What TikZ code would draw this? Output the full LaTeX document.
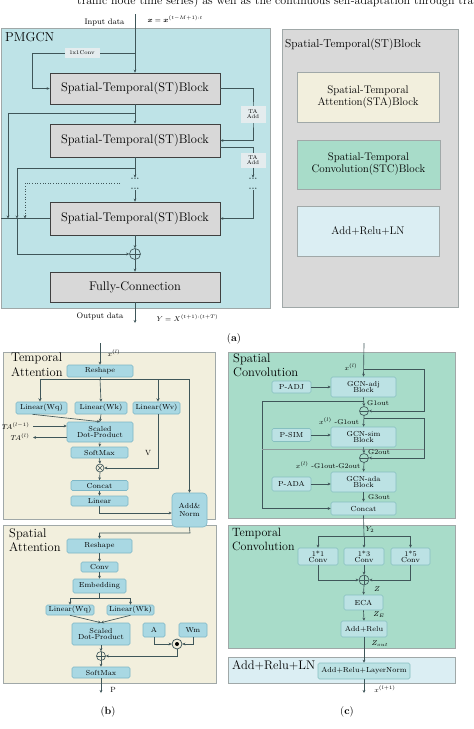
\documentclass[tikz,border=0pt]{standalone}
\usepackage{amsmath}
\usetikzlibrary{arrows.meta,calc}
\definecolor{cyanbg}{HTML}{BEE3E7}
\definecolor{stgray}{HTML}{D8D8D8}
\definecolor{panelgray}{HTML}{D9D9D9}
\definecolor{cream}{HTML}{F2EFDD}
\definecolor{mint}{HTML}{A8DCC9}
\definecolor{lightblue}{HTML}{DBEEF3}
\definecolor{bboxf}{HTML}{A9D8E3}
\definecolor{bboxd}{HTML}{7DB6C6}
\definecolor{cboxf}{HTML}{BCE2E4}
\definecolor{cboxd}{HTML}{86BFC0}
\definecolor{lc}{HTML}{3F5659}
\definecolor{pb}{HTML}{A0A8A8}
\definecolor{lblf}{HTML}{E4ECEE}
\newcommand\fsz[1]{\fontsize{#1}{#1}\selectfont}
\begin{document}
\begin{tikzpicture}[x=1pt,y=-1pt,
  ln/.style={draw=lc, line width=0.65pt},
  arr/.style={ln, -{Stealth[length=3pt,width=2.8pt]}},
  harr/.style={ln, -{Stealth[open,length=3.5pt,width=3.5pt]}},
  sz/.style 2 args={minimum width=#1pt, minimum height=#2pt, inner sep=0pt},
  stb/.style={draw=black!75, fill=stgray, line width=0.8pt, font=\fsz{12.5}},
  lbl/.style={fill=lblf, font=\fsz{5.5}, align=center},
  sub/.style={draw=pb, line width=0.6pt, font=\fsz{11}, align=center},
  pan/.style={draw=pb, line width=0.6pt},
  ptitle/.style={anchor=north west, inner sep=0pt, align=left, font={\fontsize{12.5}{14.5}\selectfont}},
  bb/.style={draw=bboxd, fill=bboxf, rounded corners=1.5pt, line width=0.6pt, font=\fsz{7.3}, align=center},
  cb/.style={draw=cboxd, fill=cboxf, rounded corners=1.5pt, line width=0.6pt, font=\fsz{7.3}, align=center},
  sm/.style={inner sep=0pt, font=\fsz{7}},
  dts/.style={inner sep=0.5pt, text=lc, font=\bfseries\fsz{9}},
  opl/.style={circle, draw=lc, line width=0.65pt, inner sep=0pt, minimum size=#1pt,
    path picture={\draw[lc,line width=0.65pt] (path picture bounding box.north) -- (path picture bounding box.south) (path picture bounding box.west) -- (path picture bounding box.east);}},
  otm/.style={circle, draw=lc, line width=0.65pt, inner sep=0pt, minimum size=#1pt,
    path picture={\draw[lc,line width=0.65pt] (path picture bounding box.north west) -- (path picture bounding box.south east) (path picture bounding box.south west) -- (path picture bounding box.north east);}},
  omn/.style={circle, draw=lc, line width=0.65pt, inner sep=0pt, minimum size=#1pt,
    path picture={\draw[lc,line width=0.65pt] (path picture bounding box.west) -- (path picture bounding box.east);}},
  odt/.style={circle, draw=lc, line width=0.75pt, inner sep=0pt, minimum size=#1pt,
    path picture={\fill[black] (path picture bounding box.center) circle (2pt);}},
]
\useasboundingbox (0,0) rectangle (474,729);

% caption line cut at the top
\node[anchor=base west, inner sep=0pt, font=\fsz{12}] (cap) at (77,4.5) {traffic node time series) as well as the continuous self-adaptation through traffic};

% ================= (a) =================
\node[pan, fill=cyanbg, sz={269}{280}] (pmg) at (135.5,168) {};
\node[ptitle, font=\fsz{13}] (pmgt) at (5,32) {PMGCN};
\node[stb, sz={170}{31}] (st1) at (135,88.5) {Spatial-Temporal(ST)Block};
\node[stb, sz={170}{33}] (st2) at (135,140.5) {Spatial-Temporal(ST)Block};
\node[stb, sz={170}{33}] (st3) at (135,218.5) {Spatial-Temporal(ST)Block};
\node[stb, sz={170}{30}] (fc) at (135,287) {Fully-Connection};
\node[opl=11] (opa) at (135,254) {};

\coordinate (inp) at (135,14);
\node[anchor=east, font=\fsz{8}] (inl) at (128,22) {Input data};
\node[anchor=west, font=\fsz{7}] (inf) at (144,19) {$\boldsymbol{x}=\boldsymbol{x}^{(t-M+1):t}$};
\draw[arr] (inp) -- (st1.north);
\coordinate (j1) at (135,53);
\draw[arr] (j1) -- (32,53) |- (st1.west);
\node[lbl, sz={35}{10}] (c1x1) at (82,53) {1x1Conv};
\draw[arr] (st1.south) -- (st2.north);
\coordinate (j2) at (135,113);
\draw[arr] (j2) -| (8,218.5);
\draw[arr] (st1.east) -| (253,115) |- (st2.east);
\node[lbl, sz={25}{17}] (ta1) at (253,114) {TA\\Add};
\draw[ln] ([yshift=-7pt]st2.east) -| (253,160);
\node[lbl, sz={25}{15}] (ta2) at (253,160) {TA\\Add};
\node[dts] (rd1) at (253,179) {...};
\node[dts] (rd2) at (253,189) {...};
\draw[arr] (ta2.south) -- (rd1.north);
\draw[arr] (rd2.south) |- (st3.east);
\node[dts] (cd1) at (135,179) {...};
\node[dts] (cd2) at (135,189) {...};
\draw[arr] (st2.south) -- (cd1.north);
\draw[arr] (cd2.south) -- (st3.north);
\coordinate (j3) at (135,168);
\draw[arr] (j3) -| (17,218.5);
\draw[arr] (17,218.5) |- (opa.west);
\draw[arr, dotted] (120,183) -| (25,218.5);
\draw[ln] (1,218.5) -- (st3.west);
\draw[arr] (st3.south) -- (opa.north);
\draw[arr] (opa.south) -- (fc.north);
\coordinate (outp) at (135,323);
\draw[arr] (fc.south) -- (outp);
\node[anchor=east, font=\fsz{8}] (outl) at (127,316) {Output data};
\node[anchor=west, font=\fsz{7}] (outf) at (153,318) {$Y=X^{(t+1):(t+T)}$};
\node[font=\fsz{10.5}] (capa) at (234,339) {(\textbf{a})};

% right panel (a)
\node[pan, fill=panelgray, sz={176}{278}] (stp) at (370,168) {};
\node[anchor=west, inner sep=0pt, font=\fsz{11.5}] (stpt) at (285,45) {Spatial-Temporal(ST)Block};
\node[sub, fill=cream, sz={142}{50}] (sta) at (368,97) {Spatial-Temporal\\[1pt]Attention(STA)Block};
\node[sub, fill=mint, sz={143}{49}] (stc) at (368.5,164.5) {Spatial-Temporal\\[1pt]Convolution(STC)Block};
\node[sub, fill=lightblue, sz={142}{50}] (arl) at (368,231) {Add+Relu+LN};

% ================= (b) =================
\node[pan, fill=cream, sz={212}{167}] (tap) at (109,435.5) {};
\node[pan, fill=cream, sz={213}{158}] (sap) at (109.5,604) {};
\node[ptitle] (tat) at (11,353) {Temporal\\Attention};
\node[ptitle] (sat) at (9,528) {Spatial\\Attention};

\node[bb, sz={66}{12}] (rs1) at (100,371) {Reshape};
\node[bb, sz={51}{12}] (wq1) at (41.5,408) {Linear(Wq)};
\node[bb, sz={52}{12}] (wk1) at (101,408) {Linear(Wk)};
\node[bb, sz={47}{12}] (wv1) at (156.5,408) {Linear(Wv)};
\node[bb, sz={66}{20}] (sd1) at (100,432) {Scaled\\[-1.5pt]Dot-Product};
\node[bb, sz={57}{11}] (sm1) at (99.5,452.5) {SoftMax};
\node[otm=8] (ot1) at (100,468) {};
\node[bb, sz={57}{10}] (cc1) at (99.5,485.5) {Concat};
\node[bb, sz={57}{10}] (li1) at (99.5,501) {Linear};
\node[bb, rounded corners=4pt, sz={35}{34}] (an) at (189.5,510) {Add\&\\[1pt]Norm};

\coordinate (tin) at (100,343);
\draw[arr] (tin) -- (rs1.north);
\node[anchor=west, font=\fsz{7.5}] (xl1) at (104,353) {$x^{(l)}$};
\coordinate (t1) at (100,379);
\draw[ln] (rs1.south) -- (t1);
\draw[ln] (40,379) -- (190,379);
\draw[harr] (40,379) -- (wq1.north -| 40,0);
\draw[arr] (t1) -- (wk1.north);
\draw[harr] (158,379) -- (wv1.north -| 158,0);
\draw[arr] (an.north |- t1) -- (an.north);
\draw[arr] ([xshift=-9pt]wq1.south) -- (sd1.north);
\draw[arr] (wk1.south) -- (sd1.north);
\node[anchor=east, font=\fsz{7.5}] (tal1) at (33,426) {$T\!A^{(l-1)}$};
\node[anchor=east, font=\fsz{7.5}] (tal2) at (33,437.5) {$T\!A^{(l)}$};
\draw[arr] (tal1.east) -- (tal1.east -| sd1.west);
\draw[arr] (tal2.east -| sd1.west) -- (tal2.east);
\draw[arr] (sd1.south) -- (sm1.north);
\draw[arr] (sm1.south) -- (ot1.north);
\draw[arr] (wv1.south -| 158,0) |- (ot1.east);
\node[font=\fsz{7.5}] (vl) at (148,453) {V};
\draw[arr] (ot1.south) -- (cc1.north);
\draw[arr] (cc1.south) -- (li1.north);
\draw[arr] (li1.south) |- ([yshift=-3pt]an.west);

\node[bb, sz={65}{14}] (rs2) at (99.5,546) {Reshape};
\node[bb, sz={37}{10}] (cv2) at (99.5,567) {Conv};
\node[bb, sz={53}{14}] (em2) at (99.5,586) {Embedding};
\node[bb, sz={48}{10}] (wq2) at (70,610) {Linear(Wq)};
\node[bb, sz={47}{10}] (wk2) at (130.5,610) {Linear(Wk)};
\node[bb, sz={58}{22}] (sd2) at (101,634) {Scaled\\[-1.5pt]Dot-Product};
\node[bb, sz={22}{14}] (ba) at (154,630) {A};
\node[bb, sz={28}{14}] (bw) at (193,630) {Wm};
\node[odt=10] (od) at (177,644) {};
\node[opl=9] (op2) at (101,656) {};
\node[bb, sz={58}{11}] (sm2) at (101,672.5) {SoftMax};

\draw[arr] (an.south) -- (190,533) -| (rs2.north);
\draw[arr] (rs2.south) -- (cv2.north);
\draw[arr] (cv2.south) -- (em2.north);
\coordinate (s1) at (99.5,598);
\draw[ln] (em2.south) -- (s1);
\draw[arr] (s1) -| (wq2.north);
\draw[arr] (s1) -| (wk2.north);
\draw[arr] (wq2.south) -- (sd2.north);
\draw[arr] (wk2.south) -- (sd2.north);
\draw[arr] (sd2.south) -- (op2.north);
\draw[arr] (ba.south) |- (od.west);
\draw[arr] (bw.south) |- (od.east);
\draw[arr] (od.south) |- (op2.east);
\draw[arr] (op2.south) -- (sm2.north);
\coordinate (pout) at (101,693);
\draw[arr] (sm2.south) -- (pout);
\node[font=\fsz{7.5}] (pl) at (113,690) {P};
\node[font=\fsz{10.5}] (capb) at (108,712) {(\textbf{b})};

% ================= (c) =================
\node[pan, fill=mint, sz={227}{166}] (scp) at (341.5,435) {};
\node[pan, fill=mint, sz={227}{123}] (tcp) at (341.5,586.5) {};
\node[pan, fill=lightblue, sz={227}{26}] (lnp) at (341.5,670) {};
\node[ptitle] (sct) at (233,353) {Spatial\\Convolution};
\node[ptitle, font={\fontsize{12}{14}\selectfont}] (tct) at (232,528) {Temporal\\Convolution};
\node[anchor=west, inner sep=0pt, font=\fsz{12.5}] (lnt) at (232,666) {Add+Relu+LN};

\node[cb, sz={65}{20}] (gadj) at (363.5,387) {GCN-adj\\[-1.5pt]Block};
\node[cb, sz={39}{12}] (padj) at (291.5,387) {P-ADJ};
\node[omn=9] (om1) at (364,411) {};
\node[cb, sz={65}{20}] (gsim) at (363.5,437) {GCN-sim\\[-1.5pt]Block};
\node[cb, sz={39}{13}] (psim) at (291.5,435) {P-SIM};
\node[omn=9] (om2) at (364,458) {};
\node[cb, sz={65}{20}] (gada) at (363.5,482) {GCN-ada\\[-1.5pt]Block};
\node[cb, sz={39}{14}] (pada) at (291.5,484) {P-ADA};
\node[cb, sz={65}{13}] (cc2) at (363.5,508.5) {Concat};

\coordinate (cin) at (364,343);
\draw[arr] (cin) -- (gadj.north);
\node[font=\fsz{7.5}] (xl2) at (351,367) {$x^{(l)}$};
\draw[arr] (364,369) -| (424,411) -- (om1.east);
\draw[arr] (padj.east) -- (gadj.west);
\draw[arr] (gadj.south) -- (om1.north);
\node[anchor=west, sm] (g1) at (367,403) {G1out};
\draw[arr] (364,401) -| (262,508.5) -- (cc2.west);
\draw[arr] (om1.south) -- (gsim.north);
\node[sm] (xg1) at (339,421) {$x^{(l)}$ -G1out};
\draw[arr] (364,418) -| (424,458) -- (om2.east);
\draw[draw=lc!60, line width=0.4pt] (262,449) -- (424,449);
\draw[arr] (psim.east) -- (psim.east -| gsim.west);
\draw[arr] (gsim.south) -- (om2.north);
\node[anchor=west, sm] (g2) at (368,452) {G2out};
\draw[arr] (om2.south) -- (gada.north);
\node[sm] (xg2) at (328,465.5) {$x^{(l)}$ -G1out-G2out};
\draw[arr] (pada.east) -- (pada.east -| gada.west);
\draw[arr] (gada.south) -- (cc2.north);
\node[anchor=west, sm] (g3) at (368,497) {G3out};

\node[cb, sz={40}{17}] (c11) at (318,556.5) {1*1\\[-1.5pt]Conv};
\node[cb, sz={40}{17}] (c13) at (364,556.5) {1*3\\[-1.5pt]Conv};
\node[cb, sz={39}{17}] (c15) at (410.5,556.5) {1*5\\[-1.5pt]Conv};
\node[opl=10] (op3) at (364,580) {};
\node[cb, sz={39}{15}] (eca) at (363.5,602.5) {ECA};
\node[cb, sz={46}{16}] (ar) at (364,629) {Add+Relu};
\node[cb, sz={92}{16}] (arln) at (364,671) {Add+Relu+LayerNorm};

\coordinate (y2) at (364,536);
\draw[ln] (cc2.south) -- (y2);
\node[font=\fsz{7.5}] (y2l) at (370,530) {$Y_2$};
\draw[arr] (y2) -| (c11.north);
\draw[arr] (y2) -- (c13.north);
\draw[arr] (y2) -| (c15.north);
\draw[arr] (c11.south) |- (op3.west);
\draw[arr] (c15.south) |- (op3.east);
\draw[arr] (c13.south) -- (op3.north);
\draw[arr] (op3.south) -- (eca.north);
\node[font=\fsz{7.5}] (zl) at (377,589) {$Z$};
\draw[arr] (eca.south) -- (ar.north);
\node[font=\fsz{7.5}] (zel) at (379,615) {$Z_E$};
\draw[arr] (ar.south) -- (arln.north);
\node[font=\fsz{7.5}] (zol) at (380,644) {$Z_{out}$};
\coordinate (cout) at (364,693);
\draw[arr] (arln.south) -- (cout);
\node[font=\fsz{7.5}] (xl3) at (385,689) {$x^{(l+1)}$};
\node[font=\fsz{10.5}] (capc) at (347,712) {(\textbf{c})};
\end{tikzpicture}
\end{document}
